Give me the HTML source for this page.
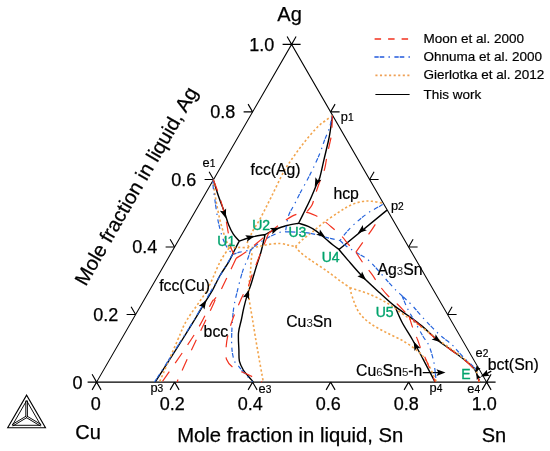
<!DOCTYPE html>
<html><head><meta charset="utf-8"><style>html,body{margin:0;padding:0;background:#fff;}svg{display:block;}</style></head>
<body>
<svg width="550" height="451" viewBox="0 0 550 451" font-family="'Liberation Sans', Arial, sans-serif">
<rect width="550" height="451" fill="#fff"/>
<path d="M96.6,382.1 L486.6,382.1 L291.6,44.4 Z" fill="none" stroke="#000" stroke-width="1.05"/>
<path d="M96.60,382.10 l-9.00,0 M96.60,382.10 l-4.50,-7.79 M486.60,382.10 l9.00,0 M486.60,382.10 l4.50,-7.79 M96.60,382.10 l-4.50,7.79 M96.60,382.10 l4.50,7.79 M135.60,314.55 l-9.00,0 M135.60,314.55 l-4.50,-7.79 M447.60,314.55 l9.00,0 M447.60,314.55 l4.50,-7.79 M174.60,382.10 l-4.50,7.79 M174.60,382.10 l4.50,7.79 M174.60,247.00 l-9.00,0 M174.60,247.00 l-4.50,-7.79 M408.60,247.00 l9.00,0 M408.60,247.00 l4.50,-7.79 M252.60,382.10 l-4.50,7.79 M252.60,382.10 l4.50,7.79 M213.60,179.45 l-9.00,0 M213.60,179.45 l-4.50,-7.79 M369.60,179.45 l9.00,0 M369.60,179.45 l4.50,-7.79 M330.60,382.10 l-4.50,7.79 M330.60,382.10 l4.50,7.79 M252.60,111.90 l-9.00,0 M252.60,111.90 l-4.50,-7.79 M330.60,111.90 l9.00,0 M330.60,111.90 l4.50,-7.79 M408.60,382.10 l-4.50,7.79 M408.60,382.10 l4.50,7.79 M291.60,44.35 l-9.00,0 M291.60,44.35 l-4.50,-7.79 M291.60,44.35 l9.00,0 M291.60,44.35 l4.50,-7.79 M486.60,382.10 l-4.50,7.79 M486.60,382.10 l4.50,7.79" fill="none" stroke="#000" stroke-width="1.1"/>
<g font-size="18" fill="#000" stroke="#000" stroke-width="0.25">
<text x="82.4" y="389.0" text-anchor="end">0</text>
<text x="118.2" y="321.0" text-anchor="end">0.2</text>
<text x="157.3" y="253.3" text-anchor="end">0.4</text>
<text x="196.2" y="185.9" text-anchor="end">0.6</text>
<text x="235.3" y="118.3" text-anchor="end">0.8</text>
<text x="274.4" y="50.8" text-anchor="end">1.0</text>
<text x="95.8" y="409.8" text-anchor="middle">0</text>
<text x="172.2" y="409.8" text-anchor="middle">0.2</text>
<text x="250.2" y="409.8" text-anchor="middle">0.4</text>
<text x="328.2" y="409.8" text-anchor="middle">0.6</text>
<text x="406.2" y="409.8" text-anchor="middle">0.8</text>
<text x="484.2" y="409.8" text-anchor="middle">1.0</text>
</g>
<g font-size="20" fill="#000" stroke="#000" stroke-width="0.25">
<text x="277.3" y="20.6">Ag</text>
<text x="75.2" y="439.3">Cu</text>
<text x="481.7" y="441.6">Sn</text>
<text x="177.2" y="441.8" textLength="226" lengthAdjust="spacingAndGlyphs">Mole fraction in liquid, Sn</text>
<text transform="translate(85.8,286.9) rotate(-60)" textLength="225" lengthAdjust="spacingAndGlyphs">Mole fraction in liquid, Ag</text>
</g>
<g font-size="13.5" fill="#000" stroke="#000" stroke-width="0.2">
<path d="M374.6,39 L408.5,39" stroke="#f2321f" stroke-width="1.3" stroke-dasharray="6.5,7" fill="none"/>
<path d="M374.4,57 L410.6,57" stroke="#2058dc" stroke-width="1.3" stroke-dasharray="4.3,1,4.6,4.2,1.4,4.5" fill="none"/>
<path d="M375.4,75.4 L410.3,75.4" stroke="#efa055" stroke-width="1.6" stroke-dasharray="2.1,2.46" fill="none"/>
<path d="M375.4,94.5 L409.6,94.5" stroke="#000" stroke-width="1.15" fill="none"/>
<text x="423.5" y="43.4">Moon et al. 2000</text>
<text x="423.5" y="61.4">Ohnuma et al. 2000</text>
<text x="423.5" y="79.4">Gierlotka et al. 2012</text>
<text x="423.5" y="98.7">This work</text>
</g>
<path d="M213.30,179.60 C214.18,182.43 216.68,191.00 218.60,196.60 C220.52,202.20 223.13,208.50 224.80,213.20 C226.47,217.90 227.18,221.30 228.60,224.80 C230.02,228.30 231.53,231.48 233.30,234.20 C235.07,236.92 238.22,239.95 239.20,241.10 M239.20,241.10 C241.07,240.47 246.08,238.40 250.40,237.30 C254.72,236.20 262.65,234.97 265.10,234.50 M265.10,234.50 C266.78,233.67 271.55,231.00 275.20,229.50 C278.85,228.00 283.10,226.55 287.00,225.50 C290.90,224.45 296.67,223.58 298.60,223.20 M298.60,223.20 C300.20,223.73 305.23,225.08 308.20,226.40 C311.17,227.72 313.40,228.95 316.40,231.10 C319.40,233.25 323.43,236.98 326.20,239.30 C328.97,241.62 330.87,243.30 333.00,245.00 C335.13,246.70 338.00,248.75 339.00,249.50 M332.40,115.60 C332.07,118.00 331.03,125.93 330.40,130.00 C329.77,134.07 329.68,135.02 328.60,140.00 C327.52,144.98 325.35,153.70 323.90,159.90 C322.45,166.10 321.15,173.02 319.90,177.20 C318.65,181.38 318.05,181.20 316.40,185.00 C314.75,188.80 312.03,195.50 310.00,200.00 C307.97,204.50 306.10,208.13 304.20,212.00 C302.30,215.87 299.53,221.33 298.60,223.20 M387.00,210.10 L339.00,249.50 M339.00,249.50 C340.48,251.27 343.92,255.52 347.90,260.10 C351.88,264.68 357.55,271.52 362.90,277.00 C368.25,282.48 374.68,288.15 380.00,293.00 C385.32,297.85 390.27,302.43 394.80,306.10 C399.33,309.77 402.77,311.75 407.20,315.00 C411.63,318.25 416.47,321.53 421.40,325.60 C426.33,329.67 432.70,335.95 436.80,339.40 C440.90,342.85 442.60,343.82 446.00,346.30 C449.40,348.78 453.48,351.52 457.20,354.30 C460.92,357.08 465.53,360.67 468.30,363.00 C471.07,365.33 472.47,366.72 473.80,368.30 C475.13,369.88 475.88,371.80 476.30,372.50 M394.80,306.10 C395.98,308.75 398.93,316.35 401.90,322.00 C404.87,327.65 409.43,334.50 412.60,340.00 C415.77,345.50 417.17,348.02 420.90,355.00 C424.63,361.98 432.65,377.42 435.00,381.90 M239.20,241.10 C238.47,242.53 236.57,246.20 234.80,249.70 C233.03,253.20 231.07,257.80 228.60,262.10 C226.13,266.40 222.57,271.05 220.00,275.50 C217.43,279.95 216.00,283.82 213.20,288.80 C210.40,293.78 206.32,300.20 203.20,305.40 C200.08,310.60 198.02,314.23 194.50,320.00 C190.98,325.77 188.63,329.68 182.10,340.00 C175.57,350.32 159.77,374.92 155.30,381.90 M265.10,234.50 C264.45,237.28 262.67,245.85 261.20,251.20 C259.73,256.55 258.00,261.08 256.30,266.60 C254.60,272.12 252.47,279.72 251.00,284.30 C249.53,288.88 248.68,290.25 247.50,294.10 C246.32,297.95 244.93,303.08 243.90,307.40 C242.87,311.72 242.20,315.73 241.30,320.00 C240.40,324.27 238.90,328.00 238.50,333.00 C238.10,338.00 238.75,345.32 238.90,350.00 C239.05,354.68 238.67,357.77 239.40,361.10 C240.13,364.43 241.92,367.60 243.30,370.00 C244.68,372.40 246.03,373.52 247.70,375.50 C249.37,377.48 252.37,380.83 253.30,381.90 M477.90,366.60 L476.30,372.50 M479.80,381.90 L476.30,372.50 M422.70,372.60 L442.00,372.60 M491.30,371.20 L485.00,374.50" fill="none" stroke="#000" stroke-width="1.4" stroke-linejoin="round"/>
<path d="M213.30,179.60 C213.38,180.67 213.37,182.60 213.80,186.00 C214.23,189.40 214.88,194.37 215.90,200.00 C216.92,205.63 218.47,213.85 219.90,219.80 C221.33,225.75 222.98,231.00 224.50,235.70 C226.02,240.40 228.25,245.95 229.00,248.00 M229.00,248.00 C227.50,250.33 223.75,254.83 220.00,262.00 C216.25,269.17 212.02,281.33 206.50,291.00 C200.98,300.67 191.70,311.83 186.90,320.00 C182.10,328.17 182.25,329.68 177.70,340.00 C173.15,350.32 162.62,374.92 159.60,381.90 M229.00,248.00 C230.75,247.90 236.08,247.43 239.50,247.40 C242.92,247.37 246.32,247.93 249.50,247.80 C252.68,247.67 255.52,247.15 258.60,246.60 C261.68,246.05 264.43,245.02 268.00,244.50 C271.57,243.98 276.50,243.37 280.00,243.50 C283.50,243.63 286.42,244.78 289.00,245.30 C291.58,245.82 294.42,246.38 295.50,246.60 M295.50,246.60 C296.62,245.48 299.42,242.32 302.20,239.90 C304.98,237.48 308.52,235.05 312.20,232.10 C315.88,229.15 319.87,225.52 324.30,222.20 C328.73,218.88 334.52,214.98 338.80,212.20 C343.08,209.42 346.13,207.28 350.00,205.50 C353.87,203.72 358.33,202.20 362.00,201.50 C365.67,200.80 368.47,201.00 372.00,201.30 C375.53,201.60 381.33,202.97 383.20,203.30 M295.50,246.60 C296.25,247.50 297.48,249.75 300.00,252.00 C302.52,254.25 306.17,256.97 310.60,260.10 C315.03,263.23 321.57,267.25 326.60,270.80 C331.63,274.35 336.90,278.58 340.80,281.40 C344.70,284.22 348.47,286.65 350.00,287.70 M350.00,287.70 C353.32,288.82 363.63,291.80 369.90,294.40 C376.17,297.00 382.05,299.98 387.60,303.30 C393.15,306.62 397.80,310.52 403.20,314.30 C408.60,318.08 413.87,321.55 420.00,326.00 C426.13,330.45 433.67,336.33 440.00,341.00 C446.33,345.67 453.00,350.17 458.00,354.00 C463.00,357.83 467.00,361.17 470.00,364.00 C473.00,366.83 474.42,368.02 476.00,371.00 C477.58,373.98 478.92,380.08 479.50,381.90 M350.00,287.70 C350.37,289.18 350.73,292.53 352.20,296.60 C353.67,300.67 355.85,307.67 358.80,312.10 C361.75,316.53 365.47,319.87 369.90,323.20 C374.33,326.53 379.85,329.13 385.40,332.10 C390.95,335.07 397.65,337.68 403.20,341.00 C408.75,344.32 414.63,348.32 418.70,352.00 C422.77,355.68 424.63,358.12 427.60,363.10 C430.57,368.08 435.02,378.77 436.50,381.90 M332.40,115.60 C331.17,116.50 327.42,119.17 325.00,121.00 C322.58,122.83 321.15,123.30 317.90,126.60 C314.65,129.90 309.35,136.07 305.50,140.80 C301.65,145.53 298.35,149.98 294.80,155.00 C291.25,160.02 288.10,163.95 284.20,170.90 C280.30,177.85 275.37,188.80 271.40,196.70 C267.43,204.60 263.42,212.75 260.40,218.30 C257.38,223.85 255.03,226.88 253.30,230.00 C251.57,233.12 251.02,234.75 250.00,237.00 C248.98,239.25 247.28,241.70 247.20,243.50 C247.12,245.30 248.73,246.22 249.50,247.80 C250.27,249.38 251.55,250.63 251.80,253.00 C252.05,255.37 251.23,258.62 251.00,262.00 C250.77,265.38 250.80,268.10 250.40,273.30 C250.00,278.50 248.23,285.42 248.60,293.20 C248.97,300.98 251.13,310.70 252.60,320.00 C254.07,329.30 255.62,338.68 257.40,349.00 C259.18,359.32 262.32,376.42 263.30,381.90" fill="none" stroke="#f2a44c" stroke-width="1.6" stroke-dasharray="2.2,2.3"/>
<path d="M213.30,179.60 C213.27,180.67 212.83,182.60 213.10,186.00 C213.37,189.40 214.10,194.37 214.90,200.00 C215.70,205.63 216.73,213.85 217.90,219.80 C219.07,225.75 220.47,231.25 221.90,235.70 C223.33,240.15 224.73,243.37 226.50,246.50 C228.27,249.63 231.50,253.17 232.50,254.50 M232.50,254.50 C230.75,257.50 225.33,266.83 222.00,272.50 C218.67,278.17 217.17,280.58 212.50,288.50 C207.83,296.42 199.17,311.42 194.00,320.00 C188.83,328.58 188.07,329.68 181.50,340.00 C174.93,350.32 159.08,374.92 154.60,381.90 M232.50,254.50 C233.70,254.12 236.72,252.92 239.70,252.20 C242.68,251.48 248.62,250.53 250.40,250.20 M250.40,250.20 C249.95,251.67 248.93,255.68 247.70,259.00 C246.47,262.32 244.67,265.00 243.00,270.10 C241.33,275.20 239.32,282.78 237.70,289.60 C236.08,296.42 234.32,302.30 233.30,311.00 C232.28,319.70 231.52,333.75 231.60,341.80 C231.68,349.85 232.58,355.17 233.80,359.30 C235.02,363.43 236.95,364.08 238.90,366.60 C240.85,369.12 243.23,371.85 245.50,374.40 C247.77,376.95 251.33,380.65 252.50,381.90 M250.40,250.20 C251.62,249.17 254.77,246.10 257.70,244.00 C260.63,241.90 264.28,239.55 268.00,237.60 C271.72,235.65 277.08,233.27 280.00,232.30 C282.92,231.33 284.58,231.88 285.50,231.80 M285.50,231.80 C287.25,231.85 291.92,231.87 296.00,232.10 C300.08,232.33 304.98,232.32 310.00,233.20 C315.02,234.08 321.10,236.18 326.10,237.40 C331.10,238.62 337.68,239.98 340.00,240.50 M332.40,115.60 C331.90,117.67 330.70,123.93 329.40,128.00 C328.10,132.07 326.18,135.78 324.60,140.00 C323.02,144.22 321.78,148.65 319.90,153.30 C318.02,157.95 315.52,163.25 313.30,167.90 C311.08,172.55 308.82,176.98 306.60,181.20 C304.38,185.42 302.03,189.33 300.00,193.20 C297.97,197.07 296.33,200.60 294.40,204.40 C292.47,208.20 289.88,211.43 288.40,216.00 C286.92,220.57 285.98,229.17 285.50,231.80 M382.70,204.60 C380.32,205.97 372.85,209.80 368.40,212.80 C363.95,215.80 359.65,219.37 356.00,222.60 C352.35,225.83 349.17,229.22 346.50,232.20 C343.83,235.18 341.08,239.12 340.00,240.50 M340.00,240.50 C341.02,241.42 343.45,244.05 346.10,246.00 C348.75,247.95 352.35,249.98 355.90,252.20 C359.45,254.42 363.97,256.58 367.40,259.30 C370.83,262.02 373.12,264.83 376.50,268.50 C379.88,272.17 384.45,277.67 387.70,281.30 C390.95,284.93 393.62,287.88 396.00,290.30 C398.38,292.72 399.30,293.27 402.00,295.80 C404.70,298.33 408.28,301.38 412.20,305.50 C416.12,309.62 420.97,315.67 425.50,320.50 C430.03,325.33 435.05,330.52 439.40,334.50 C443.75,338.48 448.63,341.73 451.60,344.40 C454.57,347.07 454.98,348.10 457.20,350.50 C459.42,352.90 462.50,356.40 464.90,358.80 C467.30,361.20 469.75,363.15 471.60,364.90 C473.45,366.65 475.22,368.03 476.00,369.30 C476.78,370.57 476.25,371.97 476.30,372.50 M402.00,295.80 C402.93,297.97 405.43,304.43 407.60,308.80 C409.77,313.17 412.42,317.38 415.00,322.00 C417.58,326.62 420.78,332.58 423.10,336.50 C425.42,340.42 427.20,341.65 428.90,345.50 C430.60,349.35 432.28,355.47 433.30,359.60 C434.32,363.73 434.52,366.58 435.00,370.30 C435.48,374.02 436.00,379.97 436.20,381.90" fill="none" stroke="#2463dc" stroke-width="1.2" stroke-dasharray="4.3,1,4.6,4.2,1.4,4.5"/>
<path d="M213.30,179.60 C214.13,181.85 216.73,188.48 218.30,193.10 C219.87,197.72 221.42,202.82 222.70,207.30 C223.98,211.78 225.08,215.82 226.00,220.00 C226.92,224.18 227.38,227.82 228.20,232.40 C229.02,236.98 229.57,243.20 230.90,247.50 C232.23,251.80 235.32,256.42 236.20,258.20 M236.20,258.20 C234.87,261.00 230.93,269.35 228.20,275.00 C225.47,280.65 222.12,288.02 219.80,292.10 C217.48,296.18 215.67,297.75 214.30,299.50 C212.93,301.25 214.15,298.05 211.60,302.60 C209.05,307.15 203.57,318.90 199.00,326.80 C194.43,334.70 190.35,340.82 184.20,350.00 C178.05,359.18 165.78,376.58 162.10,381.90 M215.20,299.80 C214.77,300.80 215.13,300.42 212.60,305.80 C210.07,311.18 203.85,324.03 200.00,332.10 C196.15,340.17 193.33,345.90 189.50,354.20 C185.67,362.50 179.08,377.28 177.00,381.90 M236.20,258.20 C237.82,257.17 242.43,254.53 245.90,252.00 C249.37,249.47 253.23,246.08 257.00,243.00 C260.77,239.92 266.58,235.08 268.50,233.50 M268.50,233.50 C267.95,234.88 266.93,237.47 265.20,241.80 C263.47,246.13 260.32,253.88 258.10,259.50 C255.88,265.12 253.65,270.75 251.90,275.50 C250.15,280.25 249.08,284.75 247.60,288.00 C246.12,291.25 244.93,291.17 243.00,295.00 C241.07,298.83 237.77,306.83 236.00,311.00 C234.23,315.17 233.67,316.32 232.40,320.00 C231.13,323.68 229.43,328.73 228.40,333.10 C227.37,337.47 226.52,341.83 226.20,346.20 C225.88,350.57 225.23,355.67 226.50,359.30 C227.77,362.93 230.22,365.47 233.80,368.00 C237.38,370.53 243.30,372.18 248.00,374.50 C252.70,376.82 259.67,380.67 262.00,381.90 M268.50,233.50 C270.60,231.80 277.15,226.20 281.10,223.30 C285.05,220.40 289.05,217.77 292.20,216.10 C295.35,214.43 297.62,213.93 300.00,213.30 C302.38,212.67 303.92,211.93 306.50,212.30 C309.08,212.67 312.92,214.30 315.50,215.50 C318.08,216.70 319.52,217.73 322.00,219.50 C324.48,221.27 327.15,223.35 330.40,226.10 C333.65,228.85 338.48,232.93 341.50,236.00 C344.52,239.07 346.10,241.80 348.50,244.50 C350.90,247.20 354.67,250.92 355.90,252.20 M332.40,115.60 C332.27,118.50 332.02,128.48 331.60,133.00 C331.18,137.52 330.63,139.10 329.90,142.70 C329.17,146.30 328.08,150.18 327.20,154.60 C326.32,159.02 325.82,164.77 324.60,169.20 C323.38,173.63 321.45,176.98 319.90,181.20 C318.35,185.42 316.62,190.53 315.30,194.50 C313.98,198.47 313.47,202.03 312.00,205.00 C310.53,207.97 307.42,211.08 306.50,212.30 M355.90,252.20 C357.08,250.50 360.33,245.77 363.00,242.00 C365.67,238.23 369.02,233.85 371.90,229.60 C374.78,225.35 378.90,218.68 380.30,216.50 M355.90,252.20 C357.07,253.97 360.25,259.13 362.90,262.80 C365.55,266.47 369.13,270.53 371.80,274.20 C374.47,277.87 376.25,281.25 378.90,284.80 C381.55,288.35 384.60,292.25 387.70,295.50 C390.80,298.75 393.95,300.88 397.50,304.30 C401.05,307.72 405.50,312.68 409.00,316.00 C412.50,319.32 413.87,320.27 418.50,324.20 C423.13,328.13 432.22,335.88 436.80,339.60 C441.38,343.32 442.60,344.02 446.00,346.50 C449.40,348.98 453.48,351.72 457.20,354.50 C460.92,357.28 465.42,360.62 468.30,363.20 C471.18,365.78 472.97,367.87 474.50,370.00 C476.03,372.13 476.75,374.02 477.50,376.00 C478.25,377.98 478.75,380.92 479.00,381.90 M409.00,316.00 C409.60,317.90 411.17,323.43 412.60,327.40 C414.03,331.37 416.22,336.25 417.60,339.80 C418.98,343.35 419.33,345.00 420.90,348.70 C422.47,352.40 424.62,356.47 427.00,362.00 C429.38,367.53 433.83,378.58 435.20,381.90" fill="none" stroke="#f2321f" stroke-width="1.2" stroke-dasharray="12,10"/>
<path d="M225.82,218.17 L219.85,210.67 L223.55,211.34 L226.11,208.59 Z M254.74,236.12 L246.93,241.67 L247.80,238.01 L245.19,235.30 Z M279.38,227.83 L272.25,234.24 L272.69,230.50 L269.80,228.11 Z M325.39,237.28 L316.12,234.82 L319.49,233.15 L319.91,229.42 Z M314.75,186.70 L315.44,177.14 L317.71,180.14 L321.46,179.85 Z M357.81,233.34 L362.71,225.10 L363.40,228.80 L366.87,230.22 Z M366.08,280.18 L357.38,276.15 L360.99,275.09 L362.05,271.48 Z M206.38,300.08 L204.41,309.46 L202.57,306.19 L198.82,305.97 Z M248.99,289.85 L249.13,299.44 L246.61,296.65 L242.90,297.26 Z M445.50,372.60 L436.50,375.90 L438.30,372.60 L436.50,369.30 Z M480.46,376.78 L487.09,369.86 L486.93,373.61 L489.99,375.79 Z M413.71,341.41 L420.48,348.20 L416.73,347.95 L414.49,350.97 Z M440.77,342.33 L431.62,339.49 L435.06,337.96 L435.63,334.25 Z M475.76,372.28 L476.30,365.84 L477.90,367.99 L480.59,367.99 Z M476.26,373.62 L481.09,377.91 L478.40,377.91 L476.80,380.06 Z" fill="#000"/>
<g font-size="15.8" fill="#000" stroke="#000" stroke-width="0.2">
<text x="250.6" y="175.4">fcc(Ag)</text>
<text x="159.2" y="290.6">fcc(Cu)</text>
<text x="333.4" y="198.5">hcp</text>
<text x="203.6" y="336.6">bcc</text>
<text x="377.4" y="274.8">Ag<tspan font-size="11.5" stroke-width="0" fill="#222">3</tspan>Sn</text>
<text x="286.2" y="326.6">Cu<tspan font-size="11.5" stroke-width="0" fill="#222">3</tspan>Sn</text>
<text x="356.0" y="375.9">Cu<tspan font-size="11.5" stroke-width="0" fill="#222">6</tspan>Sn<tspan font-size="11.5" stroke-width="0" fill="#222">5</tspan>-h</text>
<text x="487.8" y="370.0">bct(Sn)</text>
</g>
<g font-size="12.8" fill="#000" stroke="#000" stroke-width="0.2">
<text x="202.6" y="167.0">e<tspan font-size="10.2">1</tspan></text>
<text x="340.8" y="121.1">p<tspan font-size="10.2">1</tspan></text>
<text x="390.9" y="210.2">p<tspan font-size="10.2">2</tspan></text>
<text x="150.4" y="391.6">p<tspan font-size="10.2">3</tspan></text>
<text x="429.6" y="391.6">p<tspan font-size="10.2">4</tspan></text>
<text x="475.6" y="356.5">e<tspan font-size="10.2">2</tspan></text>
<text x="258.6" y="393.0">e<tspan font-size="10.2">3</tspan></text>
<text x="467.3" y="392.8">e<tspan font-size="10.2">4</tspan></text>
</g>
<g font-size="14.0" fill="#00a36c" stroke="#00a36c" stroke-width="0.35">
<text x="217.3" y="245.7">U1</text>
<text x="252.2" y="229.5">U2</text>
<text x="288.4" y="237.4">U3</text>
<text x="321.7" y="261.9">U4</text>
<text x="375.7" y="316.7">U5</text>
<text x="461.2" y="378.8">E</text>
</g>
<g fill="none" stroke="#000" stroke-width="0.95" stroke-linejoin="miter">
<path d="M26.6,395.1 L7.7,427.7 L45.5,427.7 Z" stroke-width="1.1"/>
<path d="M26.6,400.6 L12.4,425.3 L40.8,425.3 Z"/>
<path d="M27.40,416.80 L27.40,400.60 M25.80,416.80 L25.80,400.60" stroke-width="0.95"/>
<path d="M26.19,416.11 L11.99,424.61 M27.01,417.49 L12.81,425.99" stroke-width="0.95"/>
<path d="M26.19,417.49 L40.39,425.99 M27.01,416.11 L41.21,424.61" stroke-width="0.95"/>
</g>
</svg>
</body></html>
